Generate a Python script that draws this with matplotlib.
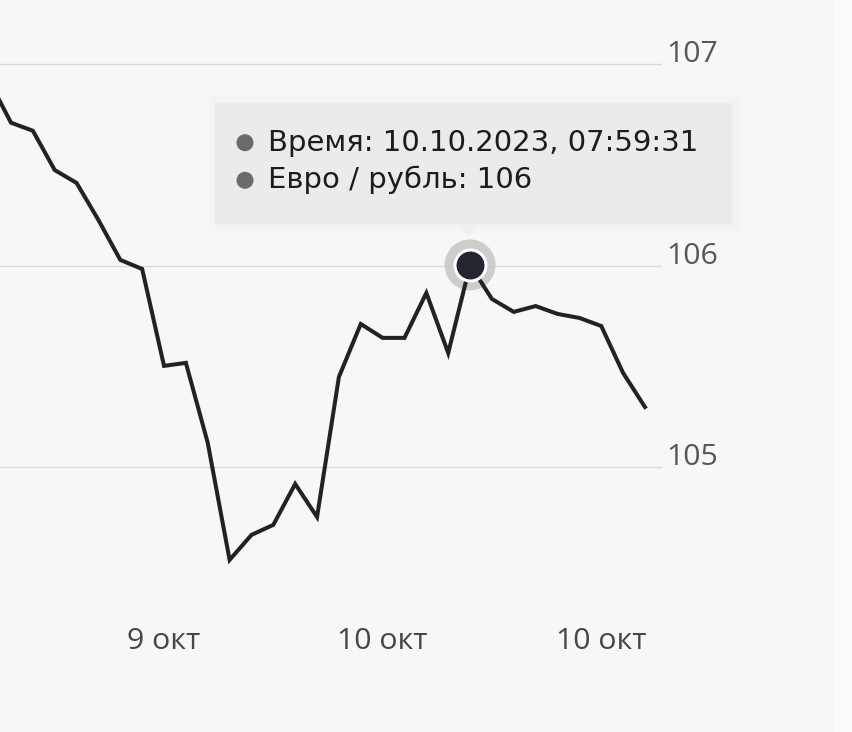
import matplotlib
matplotlib.use("Agg")
import matplotlib.pyplot as plt
from matplotlib.transforms import ScaledTranslation
from matplotlib.patches import Rectangle, Polygon, Ellipse
import numpy as np

# ---- data ----
rates = [106.92, 106.711, 106.671, 106.476, 106.412, 106.228, 106.030, 105.985,
         105.504, 105.519, 105.122, 104.541, 104.665, 104.715, 104.918, 104.754,
         105.449, 105.712, 105.643, 105.643, 105.866, 105.568, 106.005, 105.836,
         105.772, 105.801, 105.762, 105.742, 105.702, 105.469, 105.300]
x_tick_pos = [8, 18, 28]
x_tick_labels = ["9 окт", "10 окт", "10 окт"]
y_ticks = [105, 106, 107]
y_tick_labels = ["105", "106", "107"]
hover_index = 22
tooltip_lines = ["Время: 10.10.2023, 07:59:31", "Евро / рубль: 106"]

W, H = 852, 732
DPI = 100
FONT = ["Open Sans", "DejaVu Sans"]
TIP_FONT = ["DejaVu Sans"]
BG = "#f7f7f7"

fig = plt.figure(figsize=(W / DPI, H / DPI), dpi=DPI, facecolor=BG)

def fx(px):
    return px / W

def fy(py):
    return 1 - py / H

# light strip at right edge
fig.patches.append(Rectangle((fx(835), 0), 1 - fx(835), 1, transform=fig.transFigure,
                             facecolor="#fbfbfb", edgecolor="none", zorder=0))

ax_bottom_px = 600
ax = fig.add_axes([0, fy(ax_bottom_px), fx(662), 1 - fy(ax_bottom_px)])
ax.set_facecolor("none")
ax.patch.set_alpha(0)

xs = np.arange(len(rates))
ax.set_xlim(0.497, 30.78)
ax.set_ylim(104.342, 107.320)

for s in ax.spines.values():
    s.set_visible(False)
ax.set_xticks([])
ax.set_yticks([])

# gridlines
for v in y_ticks:
    ax.axhline(v, color="#d9d9d9", lw=1.0, zorder=1)

# y labels (right side, sitting on gridlines)
ytrans = ax.get_yaxis_transform() + ScaledTranslation(4 / DPI, 2.4 / DPI, fig.dpi_scale_trans)
for v, lab in zip(y_ticks, y_tick_labels):
    ax.text(1.0, v, lab, transform=ytrans, ha="left", va="baseline",
            fontsize=21.8, color="#575757", family=FONT, clip_on=False)

# x labels
xtrans = ax.get_xaxis_transform() + ScaledTranslation(0, -49.3 / DPI, fig.dpi_scale_trans)
for p, lab in zip(x_tick_pos, x_tick_labels):
    ax.text(p, 0, lab, transform=xtrans, ha="center", va="baseline",
            fontsize=21.8, color="#464646", family=FONT, clip_on=False)

# line
ax.plot(xs, rates, color="#222222", lw=2.9, solid_joinstyle="miter", zorder=3)

# hover marker
hx, hy = xs[hover_index], rates[hover_index]
ax.scatter([hx], [hy], s=(51 * 72 / DPI) ** 2, color="#c6c6c6", alpha=0.85,
           edgecolors="none", zorder=2)
ax.scatter([hx], [hy], s=(31 * 72 / DPI) ** 2, color="#23252f",
           edgecolors="white", linewidths=2.2, zorder=4)

# tooltip box with soft shadow
bx0, by0, bx1, by1 = 215, 103, 732, 224
for g in range(10, 0, -2):
    fig.patches.append(Rectangle((fx(bx0 - g), fy(by1 + g)), fx(bx1 - bx0 + 2 * g),
                                 (by1 - by0 + 2 * g) / H, transform=fig.transFigure,
                                 facecolor="black", alpha=0.005, edgecolor="none", zorder=5))
fig.patches.append(Rectangle((fx(bx0), fy(by1)), fx(bx1 - bx0), (by1 - by0) / H,
                             transform=fig.transFigure, facecolor="#ebebeb",
                             edgecolor="none", zorder=6))
fig.patches.append(Polygon([(fx(457), fy(by1)), (fx(479), fy(by1)), (fx(468), fy(236))],
                           closed=True, transform=fig.transFigure, facecolor="#efefef",
                           edgecolor="none", zorder=6))

for k, line in enumerate(tooltip_lines):
    base = 150.7 + 37.6 * k
    fig.patches.append(Ellipse((fx(245), fy(base - 8)), 17 / W, 17 / H,
                               transform=fig.transFigure,
                               facecolor="#6b6b6b", edgecolor="none", zorder=7))
    fig.text(fx(268), fy(base), line, ha="left", va="baseline", fontsize=21,
             color="#1c1c1c", family=TIP_FONT, zorder=8)

fig.savefig("out.png", dpi=DPI, facecolor=BG)
